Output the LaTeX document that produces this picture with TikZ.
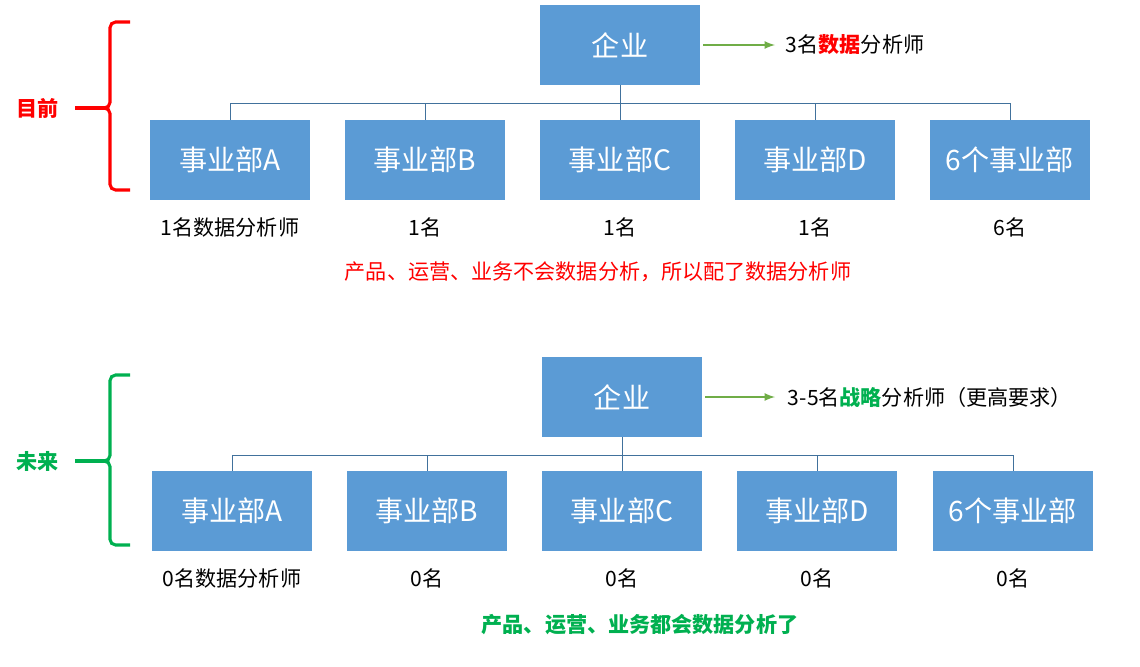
\documentclass[tikz,border=0pt]{standalone}
\usepackage{fontspec}
\setmainfont{Noto Sans CJK SC}
\usetikzlibrary{positioning}
\definecolor{boxblue}{HTML}{5B9BD5}
\definecolor{lineblue}{HTML}{41719C}
\definecolor{arrowgreen}{HTML}{70AD47}
\definecolor{textgreen}{HTML}{00B050}
\tikzset{
  unit/.style={fill=boxblue, text=white, minimum width=4cm, minimum height=2cm, inner sep=0pt, font=\fontsize{20}{20}\selectfont},
  count/.style={font=\fontsize{15}{15}\selectfont},
  tree/.style={lineblue, line width=0.6pt},
  staff/.style={arrowgreen, line width=1.5pt, -{latex}},
  bracket/.style={line width=2.2pt, rounded corners=4pt}
}
\begin{document}
\begin{tikzpicture}[x=0.025cm, y=-0.025cm]
\useasboundingbox (0,0) rectangle (1140,666);
% top: current
\node[unit] (c0) at (620,45) {企业};
\foreach \x/\t/\n [count=\i] in {230/事业部A/1名数据分析师, 425/事业部B/1名, 620/事业部C/1名, 815/事业部D/1名, 1010/6个事业部/6名} {
  \node[unit] (c\i) at (\x,160) {\t};
  \node[count, below=0.3cm of c\i] (cl\i) {\n};
  \draw[tree] (c\i.north) -- (\x,103) -- (620,103);
}
\draw[tree] (c0.south) -- (c3.north);
\draw[tree] (c1.north |- 0,103) -- (c5.north |- 0,103);
\coordinate (ca) at (775,45);
\draw[staff] (c0.east) ++(3,0) -- (ca);
\node[count, anchor=west] (cs) at (781,45) {3名\textcolor{red}{\textbf{数据}}分析师};
\node[count, red] (cn) at (598,272) {产品、运营、业务不会数据分析，所以配了数据分析师};
\draw[red, bracket] (130,22) -- (110,22) -- (110,108) -- (103,108) -- (110,108) -- (110,190) -- (130,190);
\coordinate (cb) at (75,108);
\draw[red, line width=2.2pt] (cb) -- (105,108);
\node[count, red, font=\fontsize{15}{15}\selectfont\bfseries] (ct) at (38,108) {目前};
% bottom: future
\node[unit] (f0) at (622,397) {企业};
\foreach \x/\t/\n [count=\i] in {232/事业部A/0名数据分析师, 427/事业部B/0名, 622/事业部C/0名, 817/事业部D/0名, 1013/6个事业部/0名} {
  \node[unit] (f\i) at (\x,511) {\t};
  \node[count, below=0.3cm of f\i] (fl\i) {\n};
  \draw[tree] (f\i.north) -- (\x,455);
}
\draw[tree] (f0.south) -- (f3.north);
\draw[tree] (f1.north |- 0,455) -- (f5.north |- 0,455);
\coordinate (fa) at (775,397);
\draw[staff] (f0.east) ++(3,0) -- (fa);
\node[count, anchor=west] (fs) at (783,397) {3-5名\textcolor{textgreen}{\textbf{战略}}分析师（更高要求）};
\node[count, textgreen, font=\fontsize{15}{15}\selectfont\bfseries] (fn) at (640,625) {产品、运营、业务都会数据分析了};
\draw[textgreen, bracket] (130,375) -- (110,375) -- (110,461) -- (103,461) -- (110,461) -- (110,545) -- (130,545);
\coordinate (fb) at (75,461);
\draw[textgreen, line width=2.2pt] (fb) -- (105,461);
\node[count, textgreen, font=\fontsize{15}{15}\selectfont\bfseries] (ft) at (38,461) {未来};
\end{tikzpicture}
\end{document}
